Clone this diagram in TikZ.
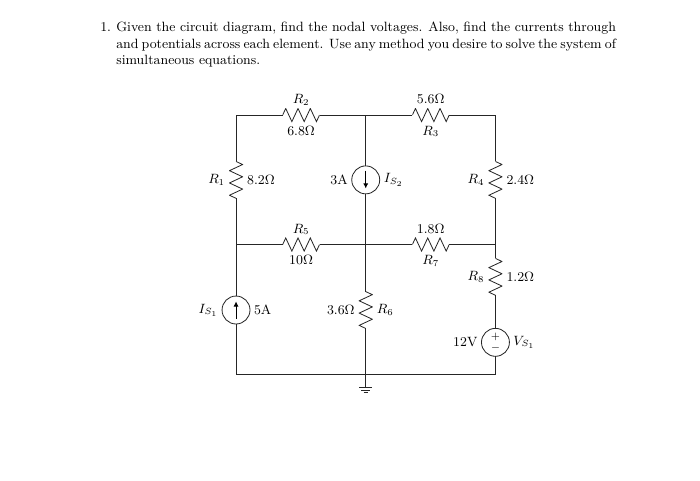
\documentclass[tikz,border=0pt]{standalone}
\usepackage{amsmath}
\usepackage{xcolor}
\usetikzlibrary{positioning,arrows.meta}

\tikzset{
    zigstyle/.style={line width=0.55pt, color=black!85},
    hres/.style={rectangle, inner sep=0pt, outer sep=0pt, minimum width=24.66pt, minimum height=9.4pt, path picture={
        \draw [zigstyle, shift={(path picture bounding box.center)}]
            (-12.33pt,0pt) -- (-10.28pt,4.4pt) -- (-6.17pt,-4.4pt) -- (-2.06pt,4.4pt)
            -- (2.06pt,-4.4pt) -- (6.17pt,4.4pt) -- (10.28pt,-4.4pt) -- (12.33pt,0pt);
    }},
    vres/.style={rectangle, inner sep=0pt, outer sep=0pt, minimum width=9.4pt, minimum height=24.66pt, path picture={
        \draw [zigstyle, shift={(path picture bounding box.center)}]
            (0pt,12.33pt) -- (4.4pt,10.28pt) -- (-4.4pt,6.17pt) -- (4.4pt,2.06pt)
            -- (-4.4pt,-2.06pt) -- (4.4pt,-6.17pt) -- (-4.4pt,-10.28pt) -- (0pt,-12.33pt);
    }},
    source/.style={circle, draw=black!85, line width=0.55pt, inner sep=0pt, outer sep=0pt, minimum size=18.7pt},
    srcarrow/.style={-{Latex[length=3.4pt,width=3.4pt]}, line width=0.6pt, shorten <=3.2pt, shorten >=3.6pt},
    wire/.style={line width=0.4pt, color=black!85},
    lab/.style={inner sep=0pt, font=\small},
}

\begin{document}
\begin{tikzpicture}[node distance=2.5pt]
    \useasboundingbox (0,0) rectangle (16.46,11.29);

    % Problem statement
    \node [anchor=north west, inner sep=0pt, text width=334.3pt, align=justify, font=\small] (question) at (2.728,10.78)
        {\llap{\makebox[10.7pt][l]{1.}}Given the circuit diagram, find the nodal voltages. Also, find the currents through\linebreak and potentials across each element. Use any method you desire to solve the system of\linebreak simultaneous equations.};

    % Junctions
    \coordinate (topleft) at (5.55,8.585);
    \coordinate (topmid) at (8.60,8.585);
    \coordinate (topright) at (11.65,8.585);
    \coordinate (midleft) at (5.55,5.54);
    \coordinate (midmid) at (8.60,5.54);
    \coordinate (midright) at (11.65,5.54);
    \coordinate (botleft) at (5.55,2.49);
    \coordinate (botmid) at (8.60,2.49);
    \coordinate (botright) at (11.65,2.49);
    \coordinate (gnd) at (8.60,2.18);

    % Resistors
    \node [vres] (r1) at (5.55,7.06) {};
    \node [hres] (r2) at (7.08,8.585) {};
    \node [hres] (r3) at (10.13,8.585) {};
    \node [vres] (r4) at (11.65,7.06) {};
    \node [hres] (r5) at (7.08,5.54) {};
    \node [vres] (r6) at (8.60,4.00) {};
    \node [hres] (r7) at (10.13,5.54) {};
    \node [vres] (r8) at (11.65,4.78) {};

    % Sources
    \node [source] (is1) at (5.55,4.00) {};
    \node [source] (is2) at (8.60,7.06) {};
    \node [source] (vs1) at (11.65,3.24) {};
    \node [inner sep=0pt, font=\scriptsize, yshift=3.6pt] (vsplus) at (vs1) {$+$};
    \node [inner sep=0pt, font=\scriptsize, yshift=-3.6pt] (vsminus) at (vs1) {$-$};

    % Labels
    \node [lab, left=of r1] (r1name) {$R_1$};
    \node [lab, right=of r1] (r1val) {8.2$\Omega$};
    \node [lab, above=1.6pt of r2] (r2name) {$R_2$};
    \node [lab, below=of r2] (r2val) {6.8$\Omega$};
    \node [lab, above=of r3] (r3val) {5.6$\Omega$};
    \node [lab, below=of r3] (r3name) {$R_3$};
    \node [lab, left=of r4] (r4name) {$R_4$};
    \node [lab, right=of r4] (r4val) {2.4$\Omega$};
    \node [lab, above=1.6pt of r5] (r5name) {$R_5$};
    \node [lab, below=of r5] (r5val) {10$\Omega$};
    \node [lab, left=of r6] (r6val) {3.6$\Omega$};
    \node [lab, right=of r6] (r6name) {$R_6$};
    \node [lab, above=of r7] (r7val) {1.8$\Omega$};
    \node [lab, below=of r7] (r7name) {$R_7$};
    \node [lab, left=of r8] (r8name) {$R_8$};
    \node [lab, right=of r8] (r8val) {1.2$\Omega$};
    \node [lab, left=of is1] (is1name) {$I_{S_1}$};
    \node [lab, right=of is1] (is1val) {5A};
    \node [lab, left=of is2] (is2val) {3A};
    \node [lab, right=of is2] (is2name) {$I_{S_2}$};
    \node [lab, left=of vs1] (vs1val) {12V};
    \node [lab, right=of vs1] (vs1name) {$V_{S_1}$};

    % Wires
    \draw [wire] (topleft) -- (r2) -- (topmid) -- (r3) -- (topright) -- (r4) -- (midright) -- (r8) -- (vs1) -- (botright) -- (botmid) -- (botleft) -- (is1) -- (midleft) -- (r1) -- (topleft);
    \draw [wire] (midleft) -- (r5) -- (midmid) -- (r7) -- (midright);
    \draw [wire] (topmid) -- (is2) -- (midmid) -- (r6) -- (botmid) -- (gnd);

    % Source arrows
    \draw [srcarrow] (is1.south) -- (is1.north);
    \draw [srcarrow] (is2.north) -- (is2.south);

    % Ground
    \draw [wire] ([xshift=-4.4pt]gnd) -- ([xshift=4.4pt]gnd);
    \draw [wire] ([xshift=-2.9pt,yshift=-1.7pt]gnd) -- ([xshift=2.9pt,yshift=-1.7pt]gnd);
    \draw [wire] ([xshift=-1.4pt,yshift=-3.4pt]gnd) -- ([xshift=1.4pt,yshift=-3.4pt]gnd);
\end{tikzpicture}
\end{document}
